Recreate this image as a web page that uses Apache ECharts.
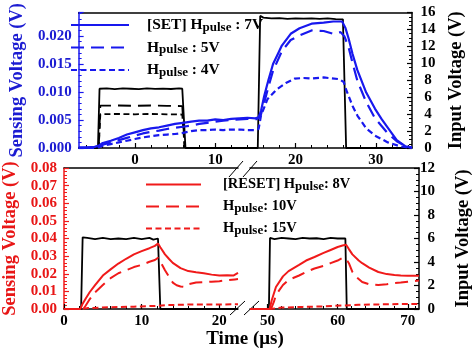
<!DOCTYPE html>
<html><head><meta charset="utf-8">
<script src="https://cdn.jsdelivr.net/npm/echarts@6/dist/echarts.min.js"></script>
<style>html,body{margin:0;padding:0;background:#fff}#c{width:474px;height:355px}</style>
</head><body><div id="c"></div>
<script>
// ---------- DATA (time in µs, sensing voltage in V, input voltage in V) ----------
const topXLabels = [0, 10, 20, 30];
const topXMinor = [-6, -4, -2, 2, 4, 6, 8, 12, 14, 16, 18, 22, 24, 26, 28, 32, 34];
const botLeftXLabels = [0, 10, 20];
const botLeftXMinor = [2, 4, 6, 8, 12, 14, 16, 18, 22];
const botRightXLabels = [50, 60, 70];
const botRightXMinor = [48, 52, 54, 56, 58, 62, 64, 66, 68, 71];

// SET: sensing voltage (blue)
const set7V = [[-7,0.0001],[-6,0.0001],[-5,0.0002],[-4.4,0.0005],[-4,0.0009],[-3,0.0013],[-2,0.0018],[-1,0.0024],[0,0.0028],[1,0.0032],[2,0.0035],[3,0.0037],[4,0.004],[5,0.0043],[6,0.0045],[7,0.0047],[8,0.0049],[9,0.0049],[10,0.0051],[11,0.005],[12,0.0052],[13,0.0053],[14,0.0054],[15,0.0053],[15.4,0.0055],[15.7,0.0066],[16.1,0.0093],[16.6,0.012],[17.2,0.015],[17.8,0.0168],[18.3,0.0183],[19.4,0.0204],[20.5,0.0214],[22,0.0222],[23.5,0.0224],[24.7,0.0226],[25.8,0.0226],[26.2,0.0215],[26.6,0.0196],[27.1,0.0168],[27.7,0.0139],[28.8,0.0099],[29.9,0.007],[30.7,0.0052],[31.5,0.0036],[32.6,0.0014],[33.7,0.0003],[34.5,0.0001]];
const set5V = [[-7,0],[-5,0.0001],[-4.4,0.0003],[-4,0.0006],[-3,0.001],[-2,0.0014],[-1,0.0018],[0,0.0022],[1,0.0026],[2,0.0029],[3,0.0031],[4,0.0034],[5,0.0036],[6,0.0038],[7,0.004],[8,0.0043],[9,0.0045],[10,0.0047],[11,0.0049],[12,0.005],[13,0.0051],[14,0.0052],[15,0.0051],[15.4,0.0053],[15.7,0.006],[16.1,0.0081],[16.6,0.0108],[17.2,0.0138],[18.3,0.0173],[19.4,0.0193],[20.5,0.0201],[22,0.021],[23.5,0.0209],[24.7,0.0204],[25.6,0.0207],[26.1,0.0199],[26.6,0.018],[27.1,0.0152],[27.7,0.012],[28.8,0.0082],[29.9,0.0053],[31.5,0.0026],[32.6,0.0012],[33.7,0.0003],[34.5,0]];
const set4V = [[-7,0],[-5,0],[-4.4,0.0002],[-4,0.0004],[-3,0.0007],[-2,0.001],[-1,0.0013],[0,0.0016],[1,0.0019],[2,0.0021],[3,0.0023],[4,0.0024],[5,0.0025],[6,0.0027],[7,0.003],[8,0.0032],[9,0.0032],[10,0.0033],[11,0.0032],[12,0.0033],[13,0.0033],[14,0.0032],[15,0.0032],[15.4,0.0034],[15.7,0.0058],[16.5,0.0087],[17.6,0.0104],[18.8,0.0116],[19.9,0.0124],[21,0.0125],[22,0.0124],[23.5,0.0126],[25.4,0.0123],[26,0.0118],[26.3,0.0104],[27.1,0.0075],[27.7,0.0058],[28.8,0.0035],[29.9,0.0022],[31.5,0.001],[33,0.0003],[34.5,0]];

// SET: input voltage pulses (black)
const setIn7V = [[-7,0],[-4.6,0],[-4.4,7.0],[-3.5,7.05],[-2.5,6.95],[-1.5,7.05],[-0.5,7.0],[0.5,6.95],[1.5,7.05],[2.5,6.98],[3.5,7.02],[4.5,6.97],[5.5,7.05],[5.9,7.0],[6.3,0],[15.3,0],[15.6,15.6],[16,15.4],[17,15.3],[18,15.35],[19,15.25],[20,15.3],[21,15.28],[22,15.32],[23,15.25],[24,15.3],[25,15.22],[25.9,15.2],[26.3,0],[34.5,0]];
const setIn5V = [[-4.5,0],[-4.3,5.0],[-2,5.02],[0,4.98],[2,5.02],[4,4.98],[5.9,4.95],[6.2,0]];
const setIn4V = [[-4.5,0],[-4.3,4.0],[-2,4.02],[0,3.98],[2,4.02],[4,3.98],[5.9,3.95],[6.2,0]];

// RESET: sensing voltage (red), first and second segment of the broken axis
const reset8A = [[0,0],[2.1,0],[2.4,0.003],[2.8,0.006],[3.3,0.0095],[4,0.0135],[5,0.019],[6,0.0225],[7,0.0258],[8,0.0285],[9,0.031],[10,0.0328],[11,0.0345],[11.7,0.0358],[12.1,0.0372],[12.4,0.035],[13,0.031],[13.5,0.0285],[14,0.0262],[15,0.0232],[16,0.0215],[17,0.0208],[18,0.0203],[19,0.0195],[20,0.019],[21,0.0192],[21.8,0.019],[22.4,0.0205]];
const reset10A = [[0,0],[2.5,0],[2.8,0.002],[3.3,0.0055],[4,0.0095],[5,0.0136],[6,0.0175],[7,0.0203],[8,0.022],[9,0.0238],[10,0.025],[11,0.0268],[11.7,0.0278],[12.1,0.029],[12.4,0.027],[13,0.022],[13.5,0.0185],[14,0.015],[14.5,0.0135],[15,0.0128],[15.5,0.0125],[16,0.014],[17,0.015],[18,0.0152],[19,0.0155],[20,0.0158],[21,0.0163],[22,0.0168],[22.4,0.017]];
const reset15A = [[0,0],[2.2,0],[3,0.0005],[6,0.001],[9,0.0013],[12,0.0018],[13,0.0022],[16,0.0025],[20,0.0025],[22.4,0.0027]];
const reset8B = [[47.5,0],[50.3,0],[50.6,0.005],[51.2,0.0125],[52.2,0.0185],[53,0.0215],[54.5,0.025],[55.5,0.0275],[56.7,0.0295],[58,0.0318],[59,0.0335],[60,0.0352],[60.7,0.036],[61.2,0.0365],[61.6,0.034],[62.1,0.031],[63,0.0275],[63.5,0.026],[64.5,0.0235],[65.8,0.021],[67,0.0198],[68.1,0.0193],[69,0.019],[70,0.0188],[71.6,0.0188]];
const reset10B = [[47.5,0],[50.5,0],[50.9,0.004],[51.2,0.008],[52.2,0.0136],[53,0.0165],[54.5,0.019],[55.5,0.021],[56.7,0.023],[58,0.0245],[59,0.026],[60,0.0275],[60.7,0.029],[61.2,0.0285],[61.6,0.026],[62.1,0.021],[62.7,0.018],[63.5,0.0153],[64.5,0.014],[65.8,0.0136],[67,0.014],[68.1,0.0147],[69,0.015],[70,0.0155],[71.6,0.0162]];
const reset15B = [[47.5,0],[50.3,0],[52,0.0008],[55,0.0012],[58,0.0015],[61,0.002],[63,0.0024],[66,0.0026],[69,0.0028],[71.6,0.0028]];

// RESET: input voltage pulses (black)
const resetInA = [[0,0],[2.2,0],[2.4,6.1],[3,6.05],[4,5.95],[5,6.05],[6,5.95],[7,6.0],[8,5.95],[9,6.05],[10,5.95],[11,6.05],[11.5,5.9],[12.1,6.0],[12.4,0],[22.4,0]];
const resetInB = [[47.5,0],[50.2,0],[50.35,6.05],[51,5.95],[52,6.05],[53,6.0],[54,5.95],[55,6.05],[56,6.0],[57,6.02],[58,5.95],[59,6.05],[60,6.0],[61.1,6.0],[61.3,0],[71.6,0]];

const topLegend = {
  set7: '{m|[SET] H}{s|pulse}{m| : 7V}',
  set5: '{m|H}{s|pulse}{m| : 5V}',
  set4: '{m|H}{s|pulse}{m| : 4V}'
};
const botLegend = {
  reset8: '{m|[RESET] H}{s|pulse}{m|: 8V}',
  reset10: '{m|H}{s|pulse}{m|: 10V}',
  reset15: '{m|H}{s|pulse}{m|: 15V}'
};

// ---------- STYLE ----------
const FONT = '"Liberation Serif","Times New Roman",serif';
const BLUE = '#1818ee', BLUE_T = '#1c1cd2';
const RED = '#f01a1a', RED_T = '#e81616';
const BLACK = '#000';
const DASH = [13, 7], SDASH = [6, 3.5];

function lab(color, extra) {
  return Object.assign({color: color, fontFamily: FONT, fontWeight: 'bold', fontSize: 15}, extra || {});
}
function xMain(grid, min, max, labels, margin) {
  return {type: 'value', gridIndex: grid, position: 'bottom', min: min, max: max,
    axisLine: {show: true, onZero: false, lineStyle: {color: BLACK, width: 1.5}},
    axisTick: {show: true, inside: true, length: 5, customValues: labels, lineStyle: {color: BLACK, width: 1.2}},
    axisLabel: lab(BLACK, {customValues: labels, margin: margin}),
    splitLine: {show: false}};
}
function xMinor(grid, min, max, ticks) {
  return {type: 'value', gridIndex: grid, position: 'bottom', min: min, max: max,
    axisLine: {show: false, onZero: false},
    axisTick: {show: true, inside: true, length: 3, customValues: ticks, lineStyle: {color: BLACK, width: 1}},
    axisLabel: {show: false}, splitLine: {show: false}};
}
function xFrame(grid, min, max) {
  return {type: 'value', gridIndex: grid, position: 'top', min: min, max: max,
    axisLine: {show: true, onZero: false, lineStyle: {color: BLACK, width: 1.5}},
    axisTick: {show: false}, axisLabel: {show: false}, splitLine: {show: false}};
}
function yAx(grid, pos, min, max, interval, minorSplit, color, labelColor, labelExtra, name, nameGap, nameColor) {
  return {type: 'value', gridIndex: grid, position: pos, min: min, max: max, interval: interval,
    axisLine: {show: true, onZero: false, lineStyle: {color: color, width: 1.5}},
    axisTick: {show: true, inside: true, length: 5, lineStyle: {color: color, width: 1.2}},
    minorTick: {show: true, splitNumber: minorSplit, length: 3, lineStyle: {color: color, width: 1}},
    axisLabel: lab(labelColor, labelExtra),
    splitLine: {show: false}, minorSplitLine: {show: false},
    name: name, nameLocation: 'middle', nameGap: nameGap,
    nameTextStyle: {color: nameColor, fontFamily: FONT, fontWeight: 'bold', fontSize: 18.5}};
}
function yHidden(grid, pos, min, max) {
  return {type: 'value', gridIndex: grid, position: pos, min: min, max: max, show: false,
    axisLine: {onZero: false}, splitLine: {show: false}};
}
function line(name, data, xi, yi, color, width, dash) {
  return {type: 'line', name: name, data: data, xAxisIndex: xi, yAxisIndex: yi,
    symbol: 'none', showSymbol: false, animation: false, silent: true,
    lineStyle: {color: color, width: width, type: dash || 'solid'},
    itemStyle: {color: color}};
}
const legendRich = (big, small) => ({
  m: {fontFamily: FONT, fontWeight: 'bold', fontSize: big, lineHeight: 18, color: BLACK},
  s: {fontFamily: FONT, fontWeight: 'bold', fontSize: small, lineHeight: 12, verticalAlign: 'bottom', color: BLACK}
});

const chart = echarts.init(document.getElementById('c'), null, {renderer: 'canvas'});
chart.setOption({
  animation: false,
  backgroundColor: '#fff',
  grid: [
    {left: 60, top: 7, width: 367, height: 141},
    {left: 60, top: 168, width: 178, height: 141},
    {left: 250, top: 168, width: 177, height: 141}
  ],
  xAxis: [
    xMain(0, -7, 34.5, topXLabels, 5), xMinor(0, -7, 34.5, topXMinor), xFrame(0, -7, 34.5),
    xMain(1, 0, 22.4, botLeftXLabels, 5), xMinor(1, 0, 22.4, botLeftXMinor), xFrame(1, 0, 22.4),
    xMain(2, 47.5, 71.6, botRightXLabels, 5), xMinor(2, 47.5, 71.6, botRightXMinor), xFrame(2, 47.5, 71.6)
  ],
  yAxis: [
    yAx(0, 'left', 0, 0.0242, 0.005, 5, BLUE, BLUE_T, {margin: 7, showMaxLabel: false, formatter: v => v.toFixed(3)}, 'Sensing Voltage (V)', 48, BLUE_T),
    yAx(0, 'right', 0, 16, 2, 4, BLACK, BLACK, {margin: 16, align: 'center'}, 'Input Voltage (V)', 35, BLACK),
    yAx(1, 'left', 0, 0.08, 0.01, 5, RED, RED_T, {margin: 7, formatter: v => v.toFixed(2)}, 'Sensing Voltage (V)', 44, RED_T),
    yHidden(1, 'right', 0, 12),
    yHidden(2, 'left', 0, 0.08),
    yAx(2, 'right', 0, 12, 2, 4, BLACK, BLACK, {margin: 16, align: 'right'}, 'Input Voltage (V)', 35, BLACK)
  ],
  legend: [
    {data: ['set7', 'set5', 'set4'], orient: 'vertical', left: 70, top: 17, padding: 0,
     itemWidth: 58, itemHeight: 12, itemGap: 5.5, selectedMode: false,
     itemStyle: {opacity: 0},
     formatter: n => topLegend[n],
     textStyle: {padding: [0, 0, 0, 13], rich: legendRich(15.5, 13)}},
    {data: ['reset8', 'reset10', 'reset15'], orient: 'vertical', left: 145, top: 177, padding: 0,
     itemWidth: 55, itemHeight: 12, itemGap: 5.5, selectedMode: false,
     itemStyle: {opacity: 0},
     formatter: n => botLegend[n],
     textStyle: {padding: [0, 0, 0, 17], rich: legendRich(14.5, 13)}}
  ],
  series: [
    line('in7', setIn7V, 0, 1, BLACK, 1.8),
    line('in5', setIn5V, 0, 1, BLACK, 1.8, DASH),
    line('in4', setIn4V, 0, 1, BLACK, 1.8, SDASH),
    line('set7', set7V, 0, 0, BLUE, 2.2),
    line('set5', set5V, 0, 0, BLUE, 2.2, DASH),
    line('set4', set4V, 0, 0, BLUE, 2.2, SDASH),
    line('inA', resetInA, 3, 3, BLACK, 1.8),
    line('inB', resetInB, 6, 5, BLACK, 1.8),
    line('reset8', reset8A, 3, 2, RED, 2),
    line('reset10', reset10A, 3, 2, RED, 2, DASH),
    line('reset15', reset15A, 3, 2, RED, 2, SDASH),
    line('reset8', reset8B, 6, 4, RED, 2),
    line('reset10', reset10B, 6, 4, RED, 2, DASH),
    line('reset15', reset15B, 6, 4, RED, 2, SDASH)
  ],
  graphic: [
    {type: 'line', shape: {x1: 229, y1: 177, x2: 243, y2: 161}, style: {stroke: BLACK, lineWidth: 1}},
    {type: 'line', shape: {x1: 243, y1: 177, x2: 257, y2: 161}, style: {stroke: BLACK, lineWidth: 1}},
    {type: 'line', shape: {x1: 230, y1: 315, x2: 245, y2: 301}, style: {stroke: BLACK, lineWidth: 1}},
    {type: 'line', shape: {x1: 244, y1: 315, x2: 259, y2: 301}, style: {stroke: BLACK, lineWidth: 1}},
    {type: 'text', x: 245, y: 339, style: {text: 'Time (μs)', fill: BLACK, font: 'bold 19px ' + FONT, align: 'center', verticalAlign: 'middle'}}
  ]
});
</script></body></html>
